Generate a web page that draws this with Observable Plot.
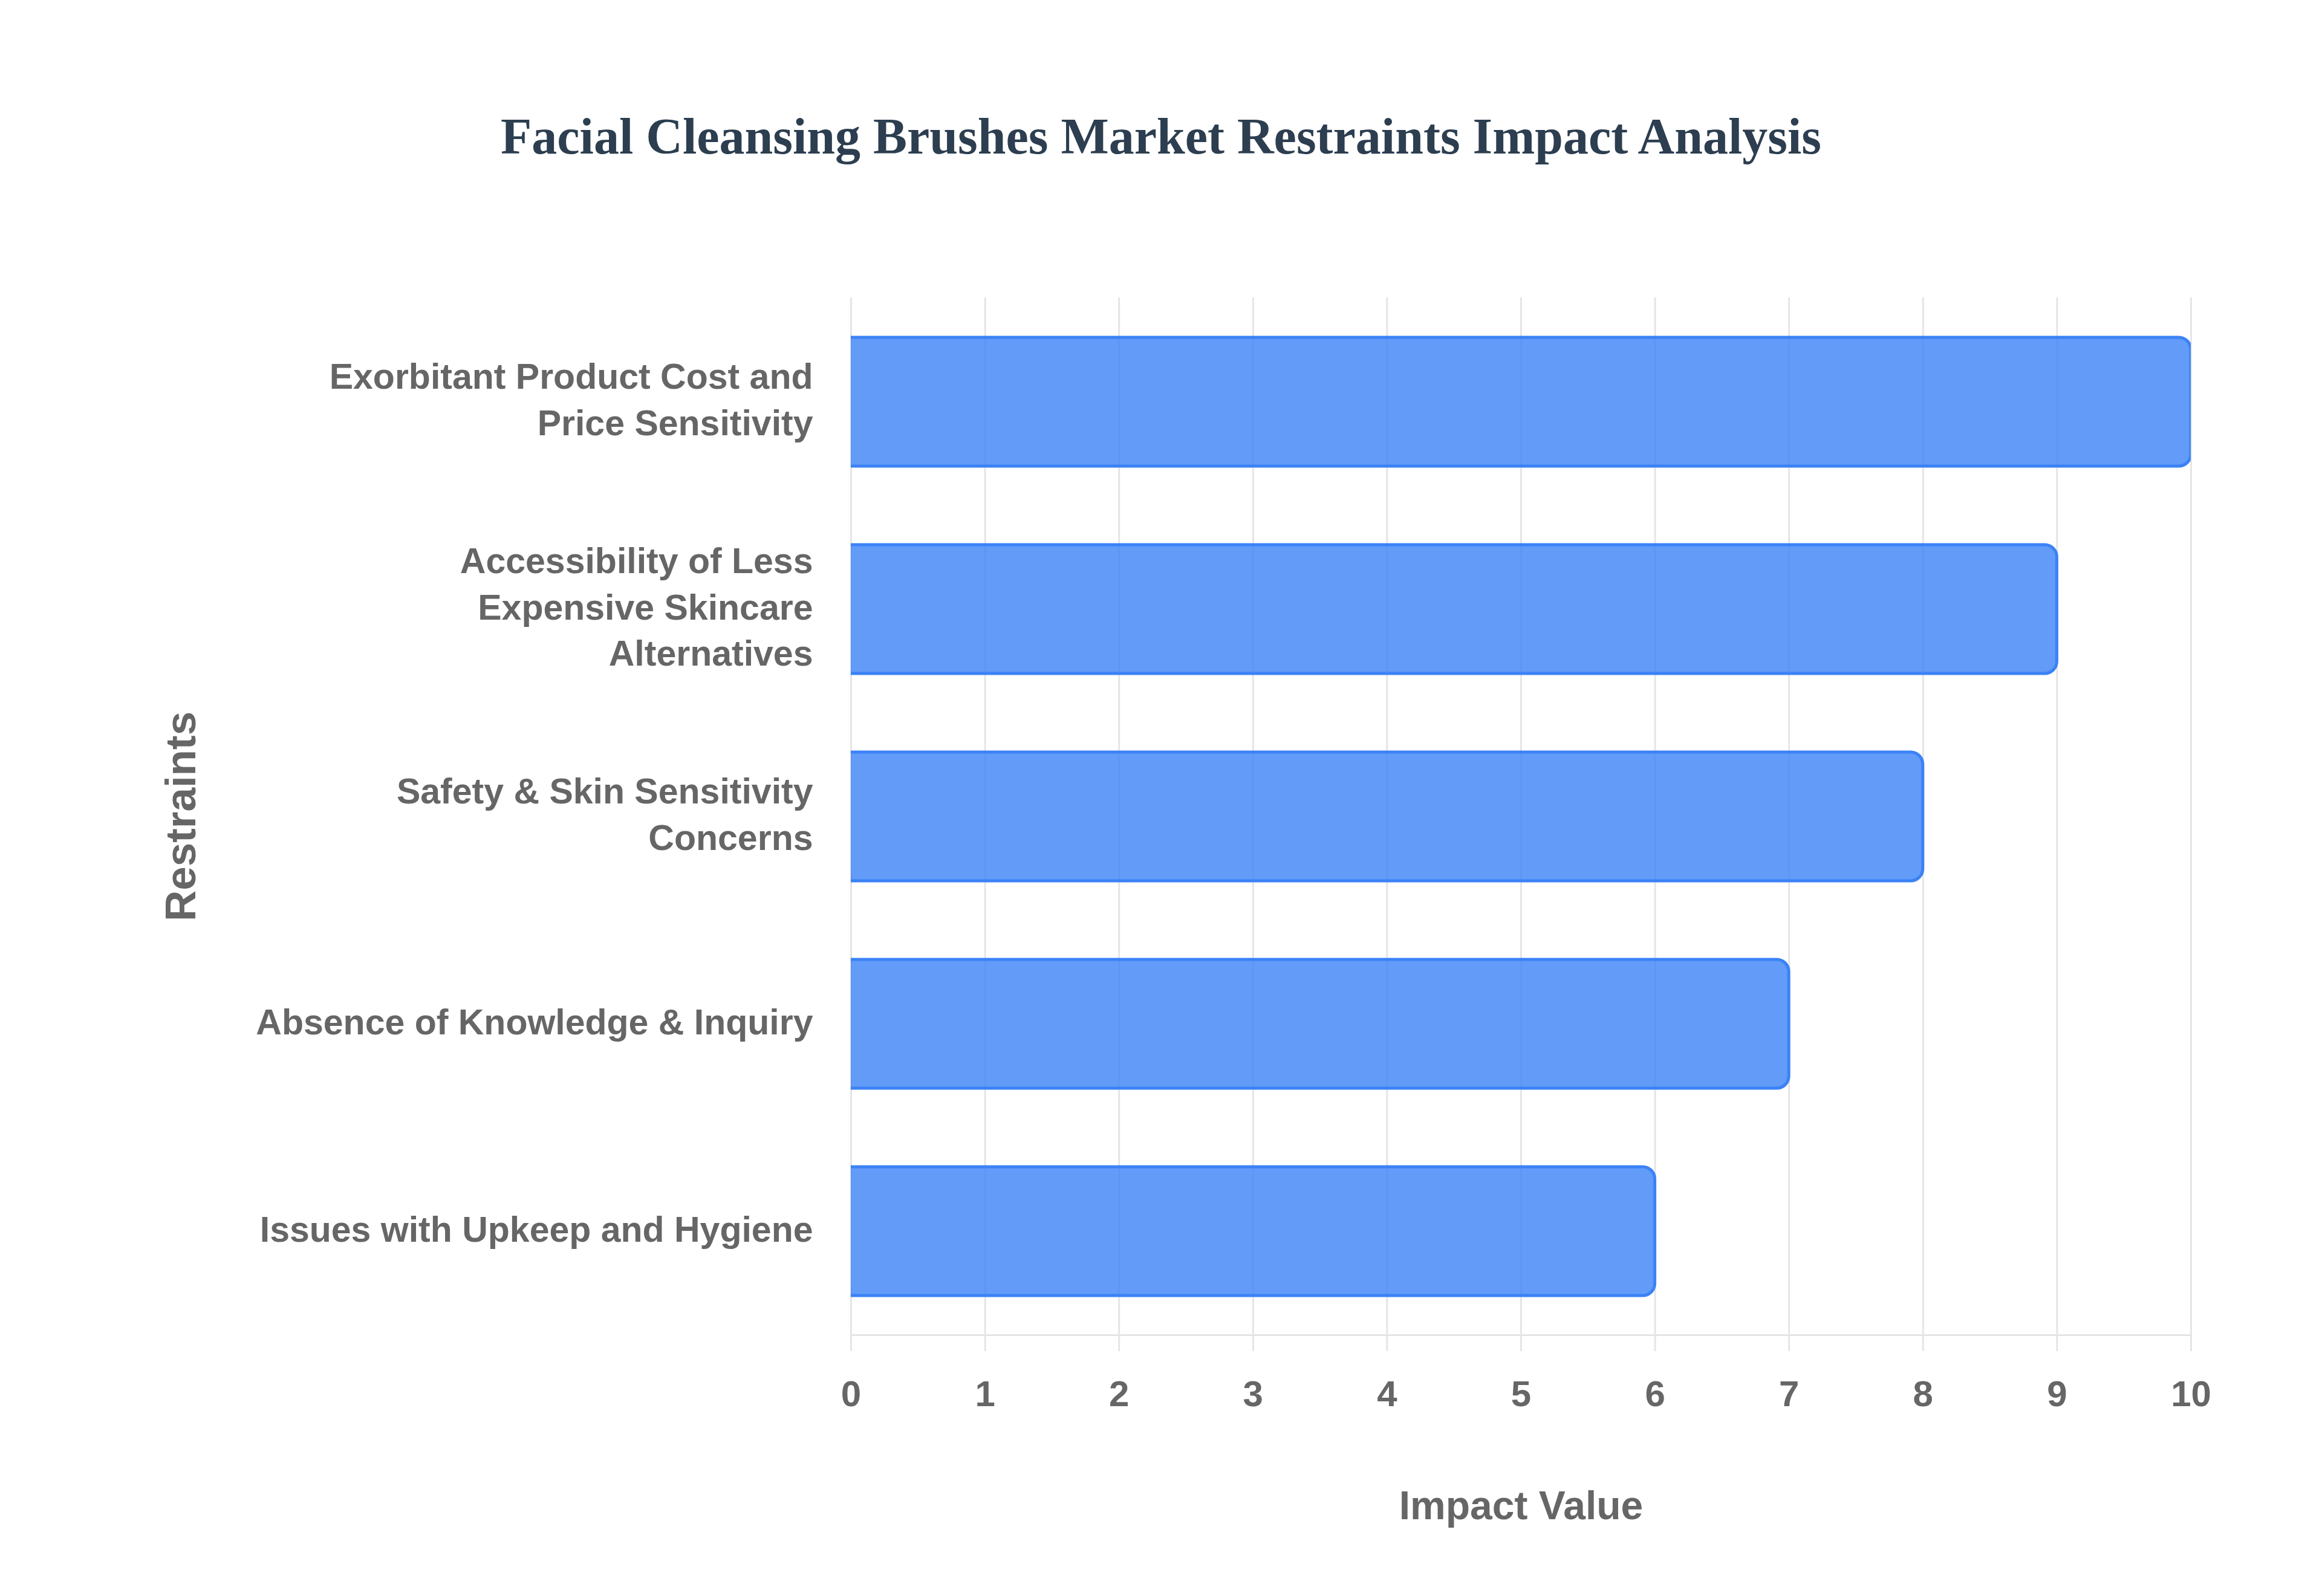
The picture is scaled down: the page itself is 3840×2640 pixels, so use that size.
<!DOCTYPE html>
<html><head><meta charset="utf-8">
<script src="https://cdn.jsdelivr.net/npm/d3@7"></script>
<script src="https://cdn.jsdelivr.net/npm/@observablehq/plot@0.6"></script>
<style>
html,body{margin:0;padding:0;background:#fff;}
#title{position:relative;width:3840px;height:300px;}
#title span{position:absolute;left:0;right:0;top:184px;text-align:center;font-family:"Liberation Serif","Times New Roman",serif;font-weight:bold;font-size:84px;line-height:84px;color:#2c3e50;white-space:nowrap;}
#chart svg{display:block;}
</style></head><body>
<div id="title"><span>Facial Cleansing Brushes Market Restraints Impact Analysis</span></div>
<div id="chart"></div>
<script>
const restraints = [
  "Exorbitant Product Cost and Price Sensitivity",
  "Accessibility of Less Expensive Skincare Alternatives",
  "Safety & Skin Sensitivity Concerns",
  "Absence of Knowledge & Inquiry",
  "Issues with Upkeep and Hygiene"
];
const restraintLabels = [
  "Exorbitant Product Cost and\nPrice Sensitivity",
  "Accessibility of Less\nExpensive Skincare\nAlternatives",
  "Safety & Skin Sensitivity\nConcerns",
  "Absence of Knowledge & Inquiry",
  "Issues with Upkeep and Hygiene"
];
const impactValues = [10, 9, 8, 7, 6];
const xTicks = [0, 1, 2, 3, 4, 5, 6, 7, 8, 9, 10];
const xTitle = "Impact Value";
const yTitle = "Restraints";

const data = restraints.map((r, i) => ({restraint: r, impact: impactValues[i]}));
const labelOf = new Map(restraints.map((r, i) => [r, restraintLabels[i]]));

const chart = Plot.plot({
  width: 3840,
  height: 2340,
  marginTop: 192,
  marginBottom: 432,
  marginLeft: 1407,
  marginRight: 217,
  style: {background: "#fff", fontFamily: "'Liberation Sans', Arial, sans-serif"},
  x: {domain: [0, 10]},
  y: {domain: restraints, paddingInner: 0.38, paddingOuter: 0.19},
  marks: [
    Plot.ruleX(xTicks, {x: d => d, stroke: "#e5e5e5", strokeWidth: 3, insetBottom: -27}),
    Plot.frame({anchor: "bottom", stroke: "#e5e5e5", strokeWidth: 3}),
    Plot.barX(data, {x: "impact", y: "restraint", fill: "#3b82f6", fillOpacity: 0.8, stroke: "#3b82f6", strokeWidth: 5, rx: 20, insetLeft: -40, clip: true}),
    Plot.axisX(xTicks, {tickSize: 0, tickPadding: 75, fontSize: 60, fontWeight: "bold", color: "#666", label: null, tickFormat: d => String(d)}),
    Plot.axisY({tickSize: 0, tickPadding: 63, dy: -8, fontSize: 59, fontWeight: "bold", color: "#666", lineHeight: 1.3, tickFormat: d => labelOf.get(d), label: null}),
    Plot.text([xTitle], {text: d => d, frameAnchor: "bottom", dy: 283, fontSize: 66, fontWeight: "bold", fill: "#666", lineAnchor: "middle", textAnchor: "middle"}),
    Plot.text([yTitle], {text: d => d, frameAnchor: "left", dx: -1107, rotate: -90, fontSize: 71, fontWeight: "bold", fill: "#666", lineAnchor: "middle", textAnchor: "middle"})
  ]
});
document.getElementById("chart").appendChild(chart);
</script>
</body></html>
